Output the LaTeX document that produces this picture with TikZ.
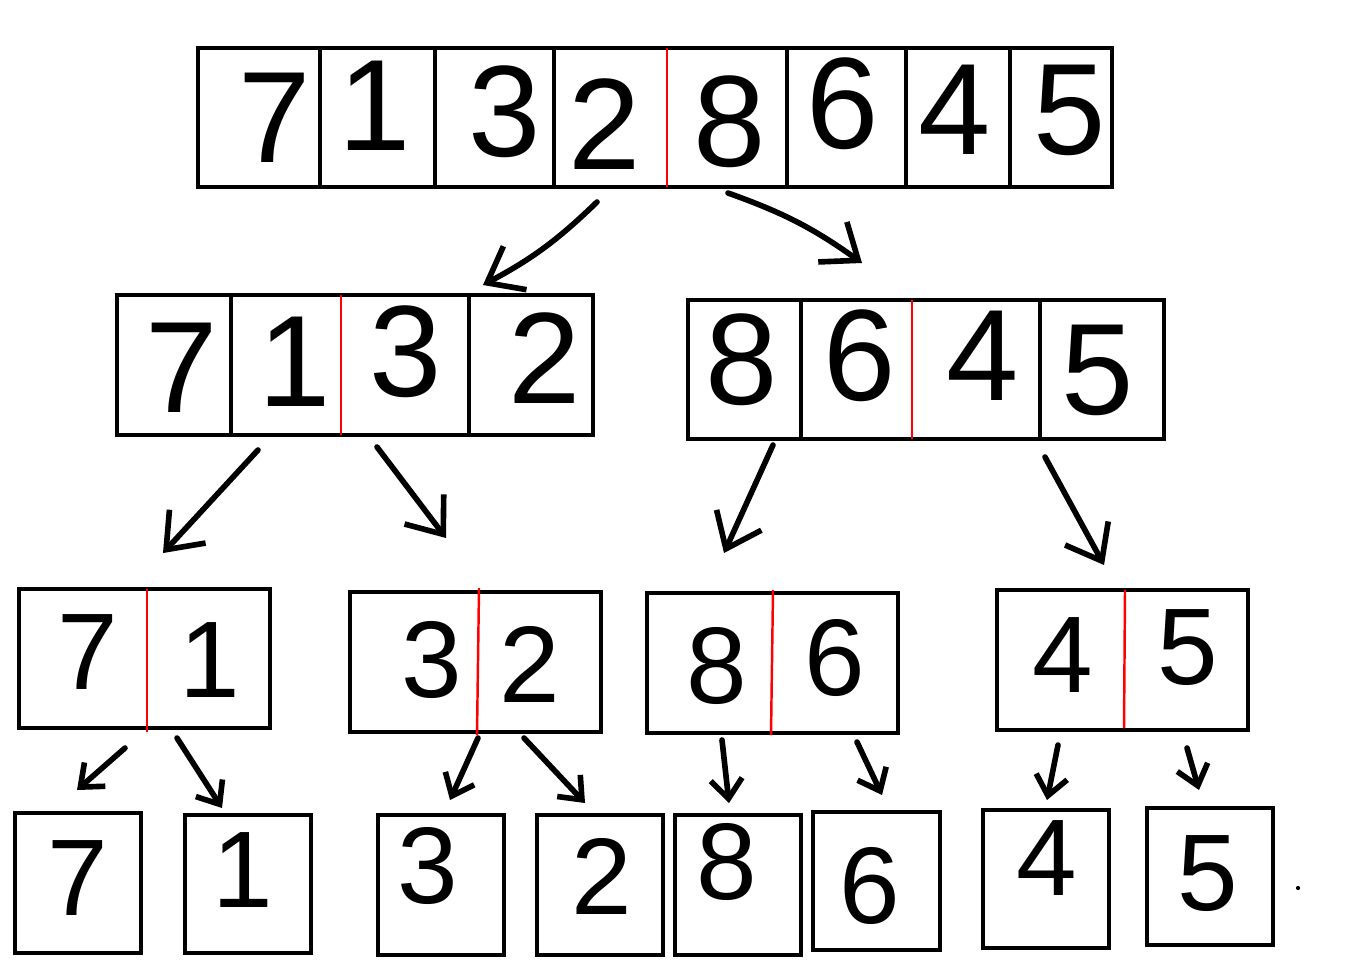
\documentclass[tikz,border=0pt]{standalone}
\usepackage{fontspec}
\setmainfont{Liberation Sans}
\usetikzlibrary{arrows.meta}
\begin{document}
\begin{tikzpicture}[x=0.02cm,y=-0.02cm,
    box/.style={line width=2pt},
    mid/.style={red, line width=1.4pt},
    big/.style={font=\fontsize{74}{74}\selectfont},
    med/.style={font=\fontsize{62}{62}\selectfont},
    arr/.style={line width=3.2pt, line cap=round, -{Straight Barb[length=18pt,width=28pt]}},
    arrs/.style={line width=3.2pt, line cap=round, -{Straight Barb[length=11pt,width=18pt]}}]

    \useasboundingbox (0,0) rectangle (1358,964);

    % oberste Reihe: ganzes Feld
    \draw[box] (198,48) rectangle (1112,187);
    \foreach \x in {320,435,554,787,906,1010} \draw[box] (\x,48) -- (\x,187);
    \draw[mid] (667,48) -- (667,187);                                  % Mitte
    \node[big] (t1) at (275,118) {7};
    \node[big] (t2) at (375,106) {1};
    \node[big] (t3) at (505,112) {3};
    \node[big] (t4) at (605,124) {2};
    \node[big] (t5) at (730,122) {8};
    \node[big] (t6) at (843,104) {6};
    \node[big] (t7) at (955,110) {4};
    \node[big] (t8) at (1070,110) {5};

    % zweite Reihe: zwei Haelften
    \draw[box] (117,295) rectangle (593,435);                          % links
    \foreach \x in {231,469} \draw[box] (\x,295) -- (\x,435);
    \draw[mid] (341,295) -- (341,435);
    \draw[box] (688,300) rectangle (1164,439);                         % rechts
    \foreach \x in {801,1040} \draw[box] (\x,300) -- (\x,439);
    \draw[mid] (912,300) -- (912,439);
    \node[big] (m1) at (182,368) {7};
    \node[big] (m2) at (295,362) {1};
    \node[big] (m3) at (406,352) {3};
    \node[big] (m4) at (545,358) {2};
    \node[big] (m5) at (742,360) {8};
    \node[big] (m6) at (860,356) {6};
    \node[big] (m7) at (983,356) {4};
    \node[big] (m8) at (1098,370) {5};

    % dritte Reihe: Paare
    \draw[box] (19,589) rectangle (270,728);   \draw[mid] (147,589) -- (147,732);
    \draw[box] (350,592) rectangle (601,732);  \draw[mid] (479,588) -- (477,735);
    \draw[box] (647,593) rectangle (898,733);  \draw[mid] (773,590) -- (771,735);
    \draw[box] (997,590) rectangle (1248,730); \draw[mid] (1125,590) -- (1124,728);
    \node[med] (p1) at (88,652) {7};
    \node[med] (p2) at (210,660) {1};
    \node[med] (p3) at (432,660) {3};
    \node[med] (p4) at (530,664) {2};
    \node[med] (p5) at (717,666) {8};
    \node[med] (p6) at (835,658) {6};
    \node[med] (p7) at (1063,655) {4};
    \node[med] (p8) at (1188,648) {5};

    % unterste Reihe: einzelne Zahlen
    \draw[box] (15,813) rectangle (141,953);
    \draw[box] (185,815) rectangle (311,953);
    \draw[box] (378,815) rectangle (504,955);
    \draw[box] (537,815) rectangle (663,955);
    \draw[box] (675,815) rectangle (801,955);
    \draw[box] (813,812) rectangle (940,950);
    \draw[box] (983,810) rectangle (1109,948);
    \draw[box] (1147,808) rectangle (1273,945);
    \node[med] (e1) at (78,878) {7};
    \node[med] (e2) at (243,870) {1};
    \node[med] (e3) at (428,866) {3};
    \node[med] (e4) at (602,876) {2};
    \node[med] (e5) at (727,862) {8};
    \node[med] (e6) at (870,886) {6};
    \node[med] (e7) at (1047,858) {4};
    \node[med] (e8) at (1208,874) {5};
    \fill (1298,888) circle (1.2pt);                                    % Punkt

    % Pfeile
    \coordinate (a1) at (597,202);  \coordinate (b1) at (483,285);
    \coordinate (a2) at (728,193);  \coordinate (b2) at (862,263);
    \draw[arr] (a1) to[bend left=8] (b1);
    \draw[arr] (a2) to[bend left=8] (b2);

    \coordinate (a3) at (258,450);  \coordinate (b3) at (163,553);
    \coordinate (a4) at (377,447);  \coordinate (b4) at (446,538);
    \coordinate (a5) at (773,445);  \coordinate (b5) at (724,553);
    \coordinate (a6) at (1045,457); \coordinate (b6) at (1104,565);
    \draw[arr] (a3) -- (b3);
    \draw[arr] (a4) -- (b4);
    \draw[arr] (a5) -- (b5);
    \draw[arr] (a6) -- (b6);

    \coordinate (c1) at (125,748);  \coordinate (d1) at (77,790);
    \coordinate (c2) at (177,738);  \coordinate (d2) at (222,808);
    \coordinate (c3) at (478,738);  \coordinate (d3) at (450,800);
    \coordinate (c4) at (524,738);  \coordinate (d4) at (585,803);
    \coordinate (c5) at (722,740);  \coordinate (d5) at (729,803);
    \coordinate (c6) at (857,742);  \coordinate (d6) at (882,795);
    \coordinate (c7) at (1058,745); \coordinate (d7) at (1047,800);
    \coordinate (c8) at (1187,748); \coordinate (d8) at (1199,790);
    \foreach \i in {1,...,8} \draw[arrs] (c\i) -- (d\i);

\end{tikzpicture}
\end{document}
